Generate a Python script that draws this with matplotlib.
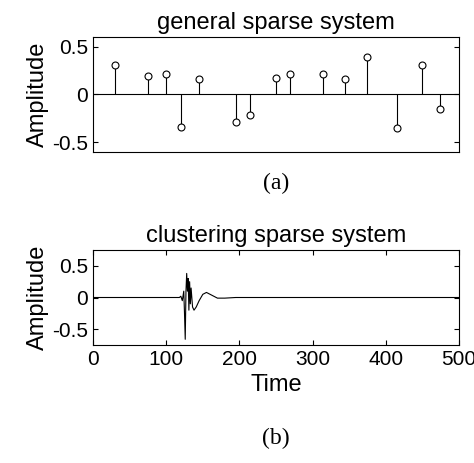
import numpy as np
from matplotlib import pyplot as plt

plt.rcParams['font.family'] = ['Liberation Sans', 'DejaVu Sans']

# general sparse system taps
sp_t = [30, 75, 100, 120, 145, 195, 214, 250, 269, 314, 344, 374, 415, 449, 474]
sp_v = [0.31, 0.19, 0.21, -0.34, 0.16, -0.29, -0.21, 0.17, 0.21, 0.21, 0.16, 0.39, -0.35, 0.31, -0.15]

# clustering sparse system
cl_t = [0, 118, 120, 122, 124, 125, 126, 127, 128, 129, 130, 131, 132, 133, 134, 136, 138,
        141, 145, 150, 155, 160, 165, 170, 180, 195, 500]
cl_v = [0, 0, 0.02, -0.05, 0.1, -0.25, -0.66, 0.1, 0.38, 0.1, 0.3, -0.2, 0.25, -0.1, 0.15,
        -0.15, -0.2, -0.15, -0.05, 0.05, 0.08, 0.05, 0.02, -0.01, -0.01, 0, 0]

fig = plt.figure(figsize=(4.74, 4.63), dpi=100)
ax1 = fig.add_axes([93/474, 1-152/463, 366/474, 115/463])
ax2 = fig.add_axes([93/474, 1-345/463, 366/474, 95/463])

ax1.axhline(0, color='k', lw=0.8)
ax1.vlines(sp_t, 0, sp_v, color='k', lw=0.8)
ax1.plot(sp_t, sp_v, 'o', mfc='white', mec='k', ms=5, mew=0.8)
ax1.set_xlim(0, 500)
ax1.set_ylim(-0.6, 0.6)
ax1.set_xticks([])
ax1.set_yticks([-0.5, 0, 0.5])
ax1.set_yticklabels(['-0.5', '0', '0.5'])
ax1.set_ylabel('Amplitude', fontsize=17, labelpad=2)
ax1.set_title('general sparse system', fontsize=17, pad=6)
ax1.text(0.5, -0.27, '(a)', transform=ax1.transAxes, ha='center', va='center',
         fontsize=17, family='Liberation Serif')

ax2.plot(cl_t, cl_v, color='k', lw=0.8)
ax2.set_xlim(0, 500)
ax2.set_ylim(-0.75, 0.75)
ax2.set_yticks([-0.5, 0, 0.5])
ax2.set_yticklabels(['-0.5', '0', '0.5'])
ax2.set_xticks([0, 100, 200, 300, 400, 500])
ax2.set_ylabel('Amplitude', fontsize=17, labelpad=2)
ax2.set_xlabel('Time', fontsize=17)
ax2.set_title('clustering sparse system', fontsize=17, pad=6)
ax2.text(0.5, -0.98, '(b)', transform=ax2.transAxes, ha='center', va='center',
         fontsize=17, family='Liberation Serif')

for ax in (ax1, ax2):
    ax.tick_params(direction='in', labelsize=15, top=True, right=True)

fig.savefig('out.png', dpi=100)
